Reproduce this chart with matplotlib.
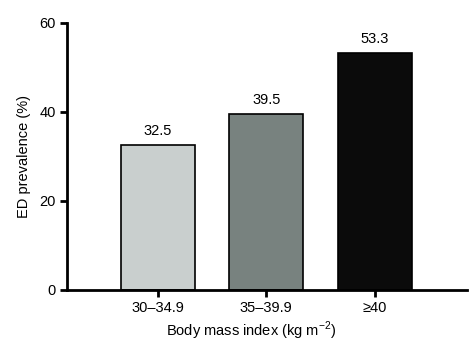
import numpy as np
import matplotlib
matplotlib.use("Agg")
import matplotlib.pyplot as plt

plt.rcParams['font.family'] = ['Liberation Sans', 'DejaVu Sans']

# data
categories = ['30\u201334.9', '35\u201339.9', '\u226540']
prevalence = [32.5, 39.5, 53.3]
bar_colors = ['#c9cfce', '#78827f', '#0b0b0b']

fig = plt.figure(figsize=(4.74, 3.51), dpi=100)
ax = fig.add_axes([0.141, 0.174, 0.844, 0.761])

x = np.arange(len(categories))
ax.bar(x, prevalence, width=0.68, color=bar_colors, edgecolor='black', linewidth=1.2)

for xi, v in zip(x, prevalence):
    ax.text(xi, v + 1.6, '%.1f' % v, ha='center', va='bottom', fontsize=10.5)

ax.set_xlim(-0.84, 2.85)
ax.set_ylim(0, 60)
ax.set_yticks([0, 20, 40, 60])
ax.set_xticks(x)
ax.set_xticklabels(categories)

for s in ['top', 'right']:
    ax.spines[s].set_visible(False)
for s in ['left', 'bottom']:
    ax.spines[s].set_linewidth(2)

ax.tick_params(axis='both', width=2, length=5, labelsize=10.5, pad=3)

ax.set_ylabel('ED prevalence (%)', fontsize=10.5, labelpad=6)
ax.set_xlabel(r'Body mass index (kg m$^{\mathregular{-2}}$)', fontsize=10.5)
ax.xaxis.set_label_coords(0.46, -0.11)

fig.savefig('out.png', dpi=100)
